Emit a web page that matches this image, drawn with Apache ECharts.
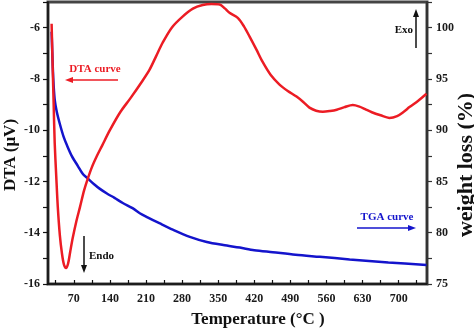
<!DOCTYPE html>
<html>
<head>
<meta charset="utf-8">
<script src="https://cdn.jsdelivr.net/npm/echarts@6/dist/echarts.min.js"></script>
<style>html,body{margin:0;padding:0;background:#fff}#c{width:474px;height:332px}</style>
</head>
<body>
<div id="c"></div>
<script>
// DTA curve (red): temperature (°C) and signal (µV)
const dtaTemp = [27, 29, 31, 33, 36, 39, 43, 47, 51, 55, 59, 63, 68, 75, 82, 90, 97, 105, 115, 125, 140, 160, 180, 204, 217, 230, 242, 260, 281, 301, 320, 337, 353, 363, 372, 388, 400, 411, 424, 436, 452, 469, 485, 502, 515, 527, 540, 553, 567, 580, 595, 611, 624, 635, 648, 665, 682, 697, 710, 721, 738, 754];
const dtaValue = [-5.85, -7.5, -9.0, -10.5, -11.8, -13.0, -14.1, -14.8, -15.25, -15.38, -15.2, -14.75, -14.2, -13.55, -13.0, -12.35, -11.9, -11.45, -11.0, -10.6, -10.0, -9.3, -8.75, -8.05, -7.64, -7.1, -6.6, -6.0, -5.57, -5.26, -5.12, -5.08, -5.1, -5.25, -5.42, -5.62, -5.95, -6.35, -6.85, -7.33, -7.85, -8.22, -8.47, -8.69, -8.9, -9.12, -9.24, -9.28, -9.25, -9.2, -9.1, -9.02, -9.08, -9.18, -9.3, -9.42, -9.52, -9.45, -9.28, -9.1, -8.85, -8.58];
// TGA curve (blue): temperature (°C) and weight (%)
const tgaTemp = [27, 29.3, 31, 33.2, 37, 43, 50, 57, 66, 78, 88, 97, 110, 120, 135, 149, 165, 184, 198, 213, 237, 262, 295, 328, 360, 392, 420, 456, 500, 547, 605, 680, 754];
const tgaValue = [99.6, 96.1, 94.3, 92.9, 91.8, 90.6, 89.4, 88.5, 87.5, 86.5, 85.7, 85.3, 84.7, 84.3, 83.8, 83.4, 82.9, 82.4, 81.9, 81.5, 80.9, 80.3, 79.6, 79.1, 78.8, 78.55, 78.3, 78.1, 77.85, 77.65, 77.4, 77.1, 76.85];
// tick labels
const xTickLabels = [70, 140, 210, 280, 350, 420, 490, 560, 630, 700];
const xTickMarks = [35, 70, 105, 140, 175, 210, 245, 280, 315, 350, 385, 420, 455, 490, 525, 560, 595, 630, 665, 700, 735];
const leftTickLabels = [-16, -14, -12, -10, -8, -6];
const leftTickMarks = [-16, -15, -14, -13, -12, -11, -10, -9, -8, -7, -6, -5];
const rightTickLabels = [75, 80, 85, 90, 95, 100];
const rightTickMarks = [75, 77.5, 80, 82.5, 85, 87.5, 90, 92.5, 95, 97.5, 100, 102.5];

const FONT = 'Liberation Serif';
const RED = '#ec1c24';
const BLUE = '#1414cc';

const chart = echarts.init(document.getElementById('c'), null, {renderer: 'canvas'});
const labelStyle = {fontFamily: FONT, fontWeight: 'bold', fontSize: 12, color: '#1a1a1a'};

function arrowH(x1, x2, y, color) {
  const dir = x2 > x1 ? 1 : -1;
  return [
    {type: 'line', shape: {x1: x1, y1: y, x2: x2 - dir * 6, y2: y}, style: {stroke: color, lineWidth: 1.5}},
    {type: 'polygon', shape: {points: [[x2, y], [x2 - dir * 8, y - 3], [x2 - dir * 8, y + 3]]}, style: {fill: color}}
  ];
}
function arrowV(x, y1, y2, color) {
  const dir = y2 > y1 ? 1 : -1;
  return [
    {type: 'line', shape: {x1: x, y1: y1, x2: x, y2: y2 - dir * 6}, style: {stroke: color, lineWidth: 1.5}},
    {type: 'polygon', shape: {points: [[x, y2], [x - 3, y2 - dir * 8], [x + 3, y2 - dir * 8]]}, style: {fill: color}}
  ];
}

const option = {
  animation: false,
  grid: {left: 48, right: 47, top: 2, bottom: 48, show: true, borderColor: '#444', borderWidth: 3, backgroundColor: 'transparent'},
  xAxis: {
    type: 'value', min: 20, max: 755,
    axisLine: {show: true, onZero: false, lineStyle: {color: '#111', width: 1.5}},
    axisTick: {show: true, inside: true, length: 4, customValues: xTickMarks, lineStyle: {color: '#111', width: 1.2}},
    axisLabel: Object.assign({customValues: xTickLabels, margin: 9}, labelStyle),
    splitLine: {show: false}
  },
  yAxis: [
    {
      type: 'value', min: -16, max: -5, position: 'left',
      axisLine: {show: true, onZero: false, lineStyle: {color: '#111', width: 1.5}},
      axisTick: {show: true, inside: false, length: 5, customValues: leftTickMarks, lineStyle: {color: '#111', width: 1.2}},
      axisLabel: Object.assign({customValues: leftTickLabels, margin: 8}, labelStyle),
      splitLine: {show: false}
    },
    {
      type: 'value', min: 75, max: 102.5, position: 'right',
      axisLine: {show: true, onZero: false, lineStyle: {color: '#333', width: 2}},
      axisTick: {show: true, inside: false, length: 5, customValues: rightTickMarks, lineStyle: {color: '#333', width: 1.2}},
      axisLabel: Object.assign({customValues: rightTickLabels, margin: 9}, labelStyle),
      splitLine: {show: false}
    }
  ],
  series: [
    {
      name: 'TGA curve', type: 'line', yAxisIndex: 1, showSymbol: false, smooth: 0.3,
      data: tgaTemp.map((t, i) => [t, tgaValue[i]]),
      lineStyle: {color: BLUE, width: 2.5}
    },
    {
      name: 'DTA curve', type: 'line', yAxisIndex: 0, showSymbol: false, smooth: 0.3,
      data: dtaTemp.map((t, i) => [t, dtaValue[i]]),
      lineStyle: {color: RED, width: 2.5}
    }
  ],
  graphic: [
    {type: 'text', x: 11, y: 155, rotation: Math.PI / 2, style: {text: 'DTA (μV)', fontFamily: FONT, fontWeight: 'bold', fontSize: 17, fill: '#111', align: 'center', verticalAlign: 'middle'}},
    {type: 'text', x: 466, y: 165, rotation: Math.PI / 2, style: {text: 'weight loss (%)', fontFamily: FONT, fontWeight: 'bold', fontSize: 22, fill: '#111', align: 'center', verticalAlign: 'middle'}},
    {type: 'text', x: 258, y: 320, style: {text: 'Temperature (°C )', fontFamily: FONT, fontWeight: 'bold', fontSize: 17, fill: '#111', align: 'center', verticalAlign: 'middle'}},
    {type: 'text', x: 95, y: 69, style: {text: 'DTA curve', fontFamily: FONT, fontWeight: 'bold', fontSize: 11, fill: RED, align: 'center', verticalAlign: 'middle'}},
    {type: 'text', x: 387, y: 217, style: {text: 'TGA curve', fontFamily: FONT, fontWeight: 'bold', fontSize: 11, fill: BLUE, align: 'center', verticalAlign: 'middle'}},
    {type: 'text', x: 89, y: 256, style: {text: 'Endo', fontFamily: FONT, fontWeight: 'bold', fontSize: 11, fill: '#111', align: 'left', verticalAlign: 'middle'}},
    {type: 'text', x: 413, y: 30, style: {text: 'Exo', fontFamily: FONT, fontWeight: 'bold', fontSize: 11, fill: '#111', align: 'right', verticalAlign: 'middle'}}
  ].concat(arrowH(118, 65, 80, RED), arrowH(357, 416, 228, BLUE), arrowV(84, 236, 273, '#111'), arrowV(416, 48, 9, '#111'))
};
chart.setOption(option);
</script>
</body>
</html>
